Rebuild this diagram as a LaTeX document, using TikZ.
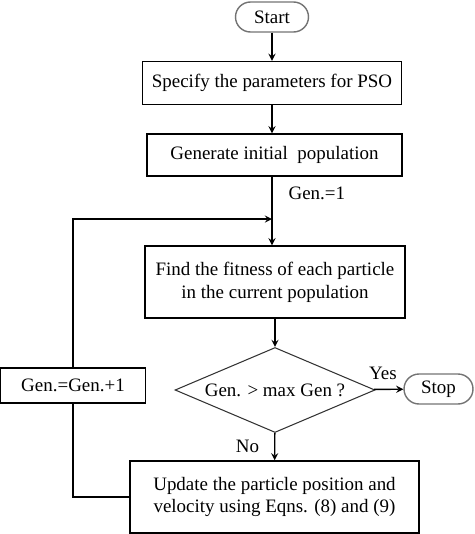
\documentclass[tikz,border=0pt]{standalone}
\usepackage{fontspec}
\setmainfont{Liberation Serif}
\usepackage{tikz}
\usetikzlibrary{shapes.geometric, arrows}
\tikzstyle{rec} = [rectangle, text centered, draw=black, thick, inner sep=2pt]
\tikzstyle{term} = [rectangle, rounded corners=0.3cm, text centered, draw=black!55, thick, minimum height=0.6cm]
\tikzstyle{dec} = [diamond, aspect=2.35, inner sep=1pt, text centered, draw=black!80, semithick, minimum width=4cm, minimum height=1.7cm]
\tikzstyle{arrow} = [thick,->,>=stealth]
\tikzstyle{line} = [thick]

\begin{document}
\begin{tikzpicture}[x=0.02cm, y=-0.02cm, font=\fontsize{10.8}{13}\selectfont]
		\useasboundingbox (0,0) rectangle (474,534);
		\node (start) [term, minimum width=1.46cm] at (272,17) {Start};
		\node (param) [rec, minimum width=5.18cm, minimum height=0.86cm] at (272,83) {Specify the parameters for PSO};
		\draw [arrow] (start) -- (param);
		\node (init) [rec, minimum width=5.1cm, minimum height=0.84cm] at (274.5,155) {Generate initial\ \ population};
		\draw [arrow] (param) -- (param |- init.north);
		\node (fit) [rec, minimum width=5.2cm, minimum height=1.44cm, align=center] at (275,282) {Find the fitness of each particle\\in the current population};
		\coordinate (join) at (272,219);
		\draw [arrow] (init.south -| join) -- node[pos=0.25, anchor=west, xshift=0.2cm] {Gen.=1} (join |- fit.north);
		\node (check) [dec] at (275,390) {Gen. \textgreater\ max Gen ?};
		\draw [arrow] (fit) -- (check);
		\node (stop) [term, minimum width=1.38cm] at (438.5,389) {Stop};
		\draw [arrow] (check) -- node[pos=0.3, above=2pt] {Yes} (stop);
		\node (upd) [rec, minimum width=5.78cm, minimum height=1.44cm, align=center] at (274.5,497) {Update the particle position and\\velocity using Eqns. (8) and (9)};
		\draw [arrow] (check) -- node[left, xshift=-0.18cm] {No} (upd);
		\node (gen) [rec, minimum width=2.9cm, minimum height=0.7cm] at (73,385.5) {Gen.=Gen.+1};
		\draw [line] (upd.west) -| (gen);
		\draw [arrow] (gen) |- (join);
\end{tikzpicture}
\end{document}
